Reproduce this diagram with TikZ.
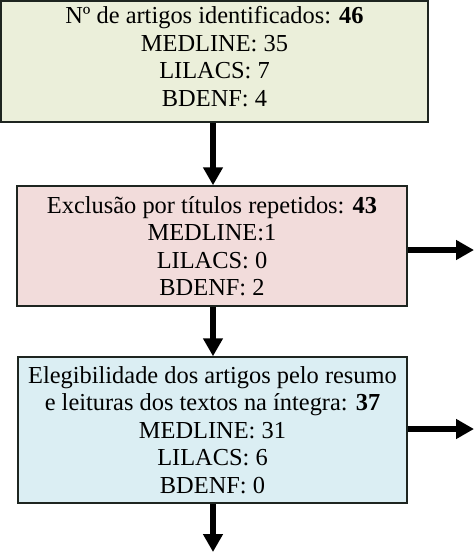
\documentclass[tikz,border=0pt]{standalone}
\usepackage{fontspec}
\setmainfont{Liberation Serif}
\usetikzlibrary{arrows.meta}
\definecolor{boxA}{HTML}{EBEFDA}
\definecolor{boxB}{HTML}{F2DCDB}
\definecolor{boxC}{HTML}{DBEEF3}
\definecolor{edgecol}{HTML}{1E2520}
\begin{document}
\begin{tikzpicture}[x=1pt,y=-1pt,
  flowbox/.style={draw=edgecol,line width=1.5pt,inner sep=0pt,align=center,
    font=\fontsize{24.4}{27.5}\selectfont},
  flowarrow/.style={line width=5.5pt,-{Triangle[length=18pt,width=19pt]}}]
\useasboundingbox (0,0) rectangle (474,552);
\node[flowbox,fill=boxA,minimum width=427pt,minimum height=121pt,text depth=10.5pt] (b1) at (214.5,61.5)
  {Nº de artigos identificados: \textbf{46}\\MEDLINE: 35\\LILACS: 7\\BDENF: 4};
\node[flowbox,fill=boxB,minimum width=390pt,minimum height=120pt] (b2) at (212,246)
  {Exclusão por títulos repetidos: \textbf{43}\\MEDLINE:1\\LILACS: 0\\BDENF: 2};
\node[flowbox,fill=boxC,minimum width=389pt,minimum height=146pt] (b3) at (212.5,430)
  {Elegibilidade dos artigos pelo resumo\\e leituras dos textos na íntegra: \textbf{37}\\MEDLINE: 31\\LILACS: 6\\BDENF: 0};
\coordinate (r2) at (474,250);
\coordinate (r3) at (474,429);
\coordinate (bot) at (213,552);
\draw[flowarrow] (b1.south -| 213,0) -- (b2.north -| 213,0);
\draw[flowarrow] (b2.south -| 213,0) -- (b3.north -| 213,0);
\draw[flowarrow] (b3.south -| 213,0) -- (bot);
\draw[flowarrow] (b2.east |- r2) -- (r2);
\draw[flowarrow] (b3.east |- r3) -- (r3);
\end{tikzpicture}
\end{document}
